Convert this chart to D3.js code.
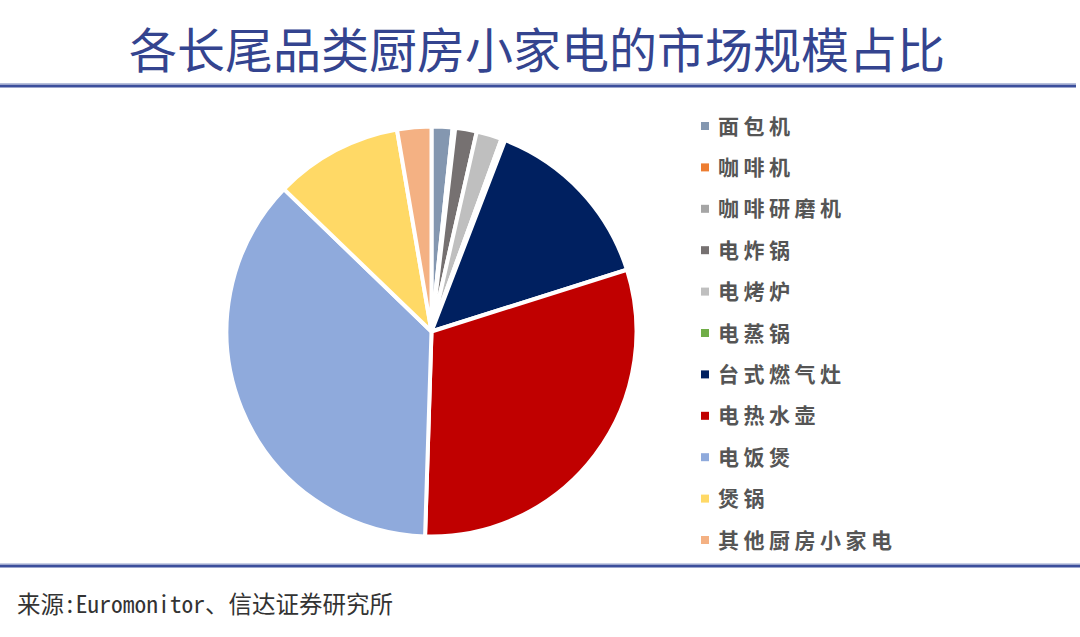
<!DOCTYPE html>
<html>
<head>
<meta charset="utf-8">
<script src="https://cdn.jsdelivr.net/npm/d3@7/dist/d3.min.js"></script>
<style>
  body { margin: 0; background: #fff; }
  svg { display: block; }
</style>
</head>
<body>
<div id="chart-area"></div>
<script>
// 品类、占比（%）、颜色
var categories = ["面包机", "咖啡机", "咖啡研磨机", "电炸锅", "电烤炉", "电蒸锅",
                  "台式燃气灶", "电热水壶", "电饭煲", "煲锅", "其他厨房小家电"];
var shares = [1.65, 0.1, 0.1, 1.7, 2.0, 0.3, 14.3, 30.4, 36.75, 10.1, 2.7];
var colors = ["#8497b0", "#ed7d31", "#a5a5a5", "#767171", "#bfbfbf", "#70ad47",
              "#002060", "#c00000", "#8faadc", "#ffd966", "#f4b183"];

var width = 1080, height = 637;
var cx = 431.5, cy = 331.5, radius = 205;

var dataset = categories.map(function(c, i) {
    return { name: c, value: shares[i], color: colors[i] };
});

var svg = d3.select("#chart-area").append("svg")
    .attr("width", width)
    .attr("height", height);

// 标题
svg.append("text")
    .attr("x", 537)
    .attr("y", 68)
    .attr("text-anchor", "middle")
    .style("font-family", "'Noto Sans CJK SC', sans-serif")
    .style("font-size", "48px")
    .style("fill", "#34448f")
    .text("各长尾品类厨房小家电的市场规模占比");

svg.append("line")
    .attr("x1", 0).attr("x2", 1076)
    .attr("y1", 86).attr("y2", 86)
    .style("stroke", "#3c4f9c")
    .style("stroke-width", 3);
svg.append("line")
    .attr("x1", 0).attr("x2", 1076)
    .attr("y1", 83.5).attr("y2", 83.5)
    .style("stroke", "#b7c0dc")
    .style("stroke-width", 1);

// 饼图
var pie = d3.pie()
    .sort(null)
    .value(function(d) { return d.value; });

var arc = d3.arc()
    .innerRadius(0)
    .outerRadius(radius);

var g = svg.append("g")
    .attr("transform", "translate(" + cx + "," + cy + ")");

g.selectAll("path")
    .data(pie(dataset))
    .enter().append("path")
    .attr("d", arc)
    .style("fill", function(d) { return d.data.color; })
    .style("stroke", "#fff")
    .style("stroke-width", 4)
    .style("stroke-linejoin", "round");

// 图例
var legendY = d3.scalePoint()
    .domain(categories)
    .range([126, 540]);

var legend = svg.selectAll(".legend")
    .data(dataset)
    .enter().append("g")
    .attr("class", "legend")
    .attr("transform", function(d) {
        return "translate(701," + legendY(d.name) + ")";
    });

legend.append("rect")
    .attr("x", 0)
    .attr("y", -4)
    .attr("width", 8)
    .attr("height", 8)
    .style("fill", function(d) { return d.color; });

legend.append("text")
    .attr("x", 17)
    .attr("y", 0)
    .attr("dy", "0.36em")
    .style("font-family", "'Noto Sans CJK SC', sans-serif")
    .style("font-weight", "bold")
    .style("font-size", "21px")
    .style("letter-spacing", "4.5px")
    .style("fill", "#555")
    .text(function(d) { return d.name; });

// 底部线与来源
svg.append("line")
    .attr("x1", 0).attr("x2", 1080)
    .attr("y1", 566).attr("y2", 566)
    .style("stroke", "#3c4f9c")
    .style("stroke-width", 3);
svg.append("line")
    .attr("x1", 0).attr("x2", 1080)
    .attr("y1", 563.5).attr("y2", 563.5)
    .style("stroke", "#c9d0e6")
    .style("stroke-width", 1);

svg.append("text")
    .attr("x", 17)
    .attr("y", 613)
    .style("font-family", "'Noto Sans Mono CJK SC', 'DejaVu Sans Mono', 'Noto Sans CJK SC', monospace")
    .style("font-size", "23.5px")
    .style("fill", "#333")
    .text("来源:Euromonitor、信达证券研究所");
</script>
</body>
</html>
